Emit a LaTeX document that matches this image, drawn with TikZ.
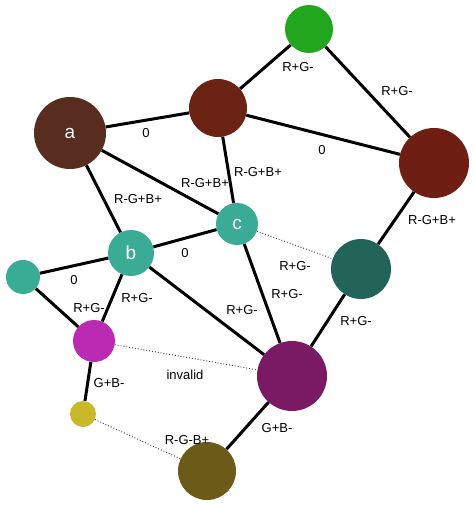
\documentclass[tikz,border=0pt]{standalone}
\usepackage{fontspec}
\setmainfont{Liberation Sans}
\usepackage{xcolor}
\usetikzlibrary{positioning}

\definecolor{nodeA}{RGB}{88,45,32}
\definecolor{nodeTop}{RGB}{107,35,20}
\definecolor{nodeGreen}{RGB}{34,166,30}
\definecolor{nodeRight}{RGB}{110,30,18}
\definecolor{nodeTeal}{RGB}{58,172,150}
\definecolor{nodeDark}{RGB}{34,100,88}
\definecolor{nodePink}{RGB}{187,42,178}
\definecolor{nodeYellow}{RGB}{200,184,42}
\definecolor{nodeOlive}{RGB}{107,90,24}
\definecolor{nodePurple}{RGB}{122,26,100}

\begin{document}
\begin{tikzpicture}[x=1pt, y=-1pt,
        % Node Styles
        vert/.style={circle, inner sep=0pt, text=white, font=\fontsize{19}{19}\selectfont},
        lbl/.style={font=\fontsize{13}{13}\selectfont, text=black},
        edge/.style={line width=3pt, draw=black},
        weak/.style={line width=0.9pt, dotted, draw=black!80}
    ]
    \useasboundingbox (0,0) rectangle (474,506);

    % --- Vertices ---
    \node[vert, fill=nodeA, minimum size=72pt] (a) at (70,133) {a};
    \node[vert, fill=nodeTop, minimum size=58pt] (top) at (218,108) {};
    \node[vert, fill=nodeGreen, minimum size=48pt] (green) at (309,29) {};
    \node[vert, fill=nodeRight, minimum size=70pt] (right) at (434,163) {};
    \node[vert, fill=nodeTeal, minimum size=42pt] (c) at (237,224) {c};
    \node[vert, fill=nodeTeal, minimum size=46pt] (b) at (131,253) {b};
    \node[vert, fill=nodeTeal, minimum size=34pt] (small) at (23,277) {};
    \node[vert, fill=nodeDark, minimum size=60pt] (dark) at (361,269) {};
    \node[vert, fill=nodePink, minimum size=42pt] (pink) at (94,341) {};
    \node[vert, fill=nodePurple, minimum size=70pt] (purple) at (292,376) {};
    \node[vert, fill=nodeYellow, minimum size=26pt] (yellow) at (83,414) {};
    \node[vert, fill=nodeOlive, minimum size=58pt] (olive) at (207,471) {};

    % --- Edges ---
    \draw[edge] (a) -- (top);
    \draw[edge] (top) -- (green);
    \draw[edge] (green) -- (right);
    \draw[edge] (top) -- (right);
    \draw[edge] (top) -- (c);
    \draw[edge] (a) -- (c);
    \draw[edge] (a) -- (b);
    \draw[edge] (b) -- (c);
    \draw[edge] (right) -- (dark);
    \draw[weak] (c) -- (dark);
    \draw[edge] (c) -- (purple);
    \draw[edge] (b) -- (purple);
    \draw[edge] (dark) -- (purple);
    \draw[edge] (small) -- (b);
    \draw[edge] (small) -- (pink);
    \draw[edge] (b) -- (pink);
    \draw[edge] (pink) -- (yellow);
    \draw[weak] (pink) -- (purple);
    \draw[weak] (yellow) -- (olive);
    \draw[edge] (olive) -- (purple);

    % --- Edge labels ---
    \node[lbl] (l1) at (146,133) {0};
    \node[lbl] (l2) at (298,67) {R+G-};
    \node[lbl] (l3) at (397,91) {R+G-};
    \node[lbl] (l4) at (322,150) {0};
    \node[lbl] (l5) at (258,172) {R-G+B+};
    \node[lbl] (l6) at (205,183) {R-G+B+};
    \node[lbl] (l7) at (138,199) {R-G+B+};
    \node[lbl] (l8) at (185,253) {0};
    \node[lbl] (l9) at (432,220) {R-G+B+};
    \node[lbl] (l10) at (295,266) {R+G-};
    \node[lbl] (l11) at (287,294) {R+G-};
    \node[lbl] (l12) at (242,310) {R+G-};
    \node[lbl] (l13) at (356,321) {R+G-};
    \node[lbl] (l14) at (74,280) {0};
    \node[lbl] (l15) at (89,308) {R+G-};
    \node[lbl] (l16) at (137,298) {R+G-};
    \node[lbl] (l17) at (109,383) {G+B-};
    \node[lbl] (l18) at (185,375) {invalid};
    \node[lbl] (l19) at (187,440) {R-G-B+};
    \node[lbl] (l20) at (277,428) {G+B-};

\end{tikzpicture}
\end{document}
